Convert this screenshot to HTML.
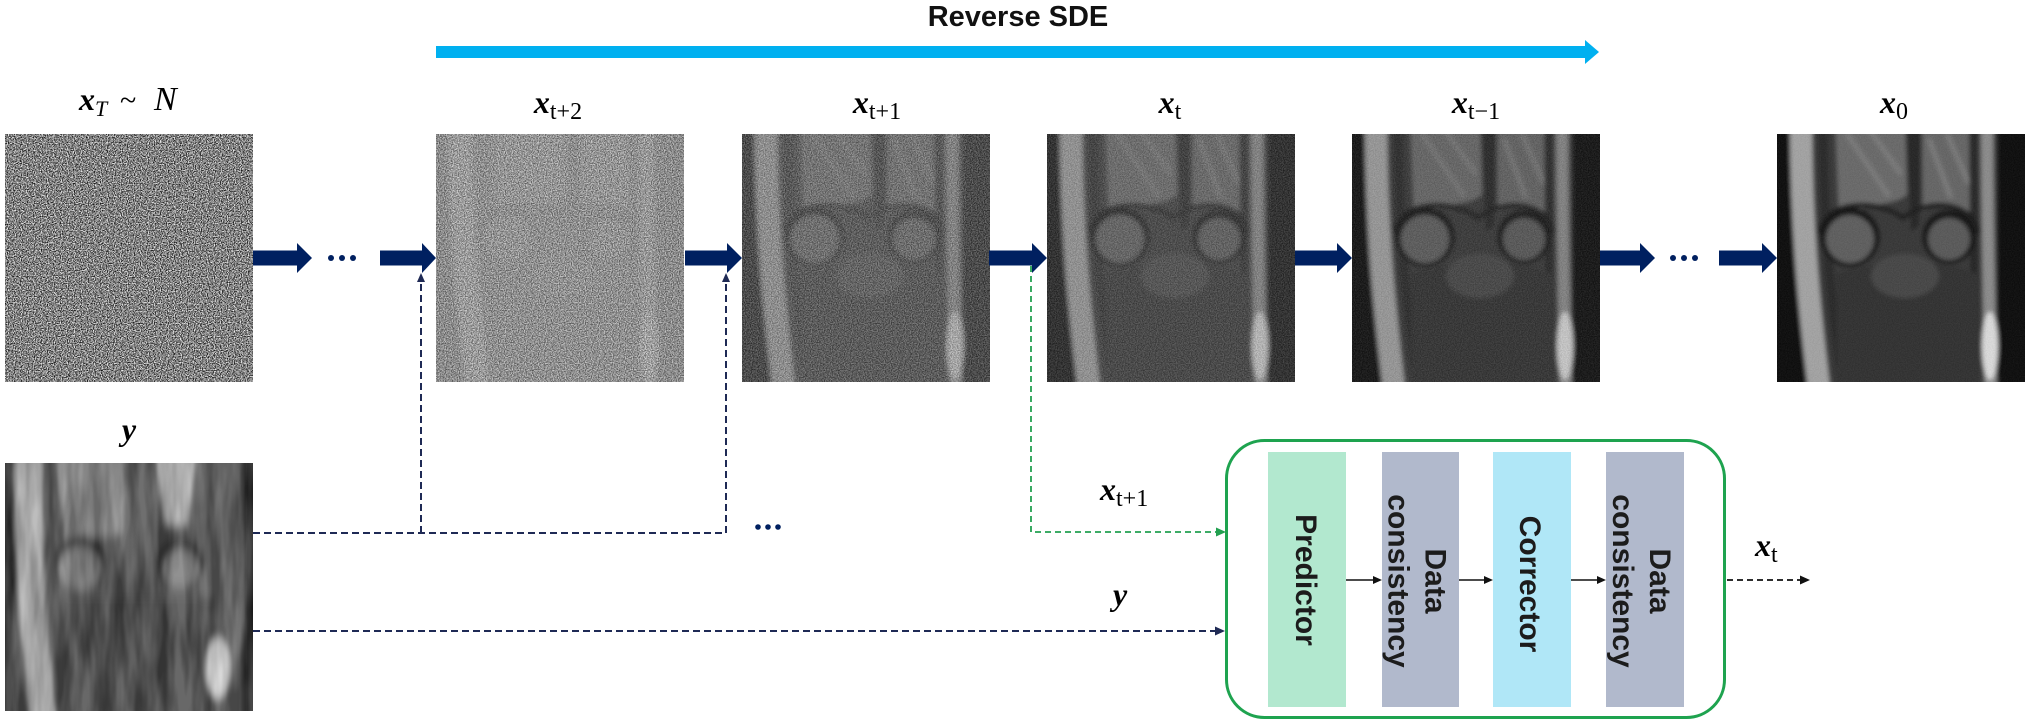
<!DOCTYPE html>
<html><head><meta charset="utf-8">
<style>
html,body{margin:0;padding:0;background:#fff;}
svg{display:block;}
.mx{font-family:"Liberation Serif","DejaVu Serif",serif;font-weight:bold;font-style:italic;font-size:32px;}
.ms{font-family:"Liberation Serif","DejaVu Serif",serif;font-weight:normal;font-style:normal;font-size:24px;}
.blk{font-family:"Liberation Sans",Arial,sans-serif;font-weight:bold;font-size:30px;fill:#1c1c1c;}
</style></head>
<body>
<svg width="2033" height="725" viewBox="0 0 2033 725" xmlns="http://www.w3.org/2000/svg">
<defs>
  <clipPath id="sq"><rect x="0" y="0" width="248" height="248"/></clipPath>
  <filter id="nz" x="0" y="0" width="1" height="1" color-interpolation-filters="sRGB">
    <feTurbulence type="fractalNoise" baseFrequency="0.85" numOctaves="2" seed="4"/>
    <feColorMatrix type="matrix" values="1 0 0 0 0  1 0 0 0 0  1 0 0 0 0  0 0 0 0 1"/>
    <feComponentTransfer>
      <feFuncR type="linear" slope="2.4" intercept="-0.7"/>
      <feFuncG type="linear" slope="2.4" intercept="-0.7"/>
      <feFuncB type="linear" slope="2.4" intercept="-0.7"/>
    </feComponentTransfer>
  </filter>
  <filter id="streak" x="0" y="0" width="1" height="1" color-interpolation-filters="sRGB">
    <feTurbulence type="fractalNoise" baseFrequency="0.06 0.01" numOctaves="3" seed="7"/>
    <feColorMatrix type="matrix" values="1 0 0 0 0  1 0 0 0 0  1 0 0 0 0  0 0 0 0 1"/>
    <feComponentTransfer>
      <feFuncR type="linear" slope="2.2" intercept="-0.6"/>
      <feFuncG type="linear" slope="2.2" intercept="-0.6"/>
      <feFuncB type="linear" slope="2.2" intercept="-0.6"/>
    </feComponentTransfer>
  </filter>
  <filter id="blurv"><feGaussianBlur stdDeviation="2 5"/></filter>
  <filter id="soft"><feGaussianBlur stdDeviation="2"/></filter>

  <g id="knee">
    <rect x="-20" y="-20" width="290" height="290" fill="#0f0f0f"/>
    <path d="M12,-20 C14,80 22,160 36,270 L220,270 L220,-20 Z" fill="#383838"/>
    <path d="M24,-20 C24,80 30,160 44,270" fill="none" stroke="#a4a4a4" stroke-width="22"/>
    <path d="M46,-20 C46,80 52,160 68,270" fill="none" stroke="#2c2c2c" stroke-width="10"/>
    <path d="M58,-20 L128,-20 L130,60 C120,72 95,66 62,84 Z" fill="#6a6a6a"/>
    <path d="M145,-20 L196,-20 L198,82 C180,68 160,64 146,78 Z" fill="#666"/>
    <path d="M70,0 L112,62 M92,-5 L124,40 M152,5 L174,64 M170,0 L192,50" stroke="#7c7c7c" stroke-width="5" fill="none"/>
    <path d="M128,-20 L145,-20 L142,92 L134,98 Z" fill="#262626"/>
    <path d="M196,-20 L198,270" stroke="#262626" stroke-width="8"/>
    <path d="M210,-20 C210,80 212,160 214,270" stroke="#8c8c8c" stroke-width="12" fill="none"/>
    <ellipse cx="213" cy="212" rx="8" ry="34" fill="#dcdcdc"/>
    <path d="M60,140 C100,125 170,125 200,140 L202,270 L60,270 Z" fill="#333"/>
    <ellipse cx="128" cy="142" rx="34" ry="22" fill="#474747"/>
    <path d="M42,100 C46,66 100,64 126,84 C150,64 196,66 202,100" stroke="#1a1a1a" stroke-width="5" fill="none"/>
    <circle cx="73" cy="103" r="30" fill="#141414"/>
    <circle cx="73" cy="105" r="24" fill="#5e5e5e"/>
    <circle cx="172" cy="103" r="27" fill="#141414"/>
    <circle cx="172" cy="105" r="21" fill="#5a5a5a"/>
  </g>
</defs>

<rect width="2033" height="725" fill="#fff"/>

<!-- Reverse SDE -->
<text x="1018" y="26" text-anchor="middle" font-family="Liberation Sans, Arial, sans-serif" font-weight="bold" font-size="29" fill="#111">Reverse SDE</text>
<rect x="436" y="46" width="1150" height="12" fill="#00b0f0"/>
<polygon points="1585,40 1599,52 1585,64" fill="#00b0f0"/>

<!-- top labels -->
<text x="79" y="110"><tspan class="mx">x</tspan><tspan dy="6" style="font-family:'Liberation Serif',serif;font-style:italic;font-size:22px;">T</tspan></text>
<text x="120" y="110" font-family="Liberation Serif, serif" font-size="30">~</text>
<text x="154" y="110" font-family="Liberation Serif, serif" font-style="italic" font-size="34">N</text>

<text x="558" y="113" text-anchor="middle"><tspan class="mx">x</tspan><tspan class="ms" dy="6">t+2</tspan></text>
<text x="877" y="113" text-anchor="middle"><tspan class="mx">x</tspan><tspan class="ms" dy="6">t+1</tspan></text>
<text x="1170" y="113" text-anchor="middle"><tspan class="mx">x</tspan><tspan class="ms" dy="6">t</tspan></text>
<text x="1476" y="113" text-anchor="middle"><tspan class="mx">x</tspan><tspan class="ms" dy="6">t−1</tspan></text>
<text x="1894" y="113" text-anchor="middle"><tspan class="mx">x</tspan><tspan class="ms" dy="6">0</tspan></text>

<!-- noise image x_T -->
<g transform="translate(5,134)"><g clip-path="url(#sq)">
  <rect width="248" height="248" fill="#909090"/>
  <rect width="248" height="248" filter="url(#nz)" opacity="0.85"/>
</g></g>

<!-- x_{t+2} -->
<g transform="translate(436,134)"><g clip-path="url(#sq)">
  <use href="#knee" filter="url(#soft)"/>
  <rect width="248" height="248" fill="#b4b4b4" opacity="0.82"/>
  <rect width="248" height="248" filter="url(#nz)" opacity="0.45"/>
</g></g>

<!-- x_{t+1} -->
<g transform="translate(742,134)"><g clip-path="url(#sq)">
  <use href="#knee" filter="url(#soft)"/>
  <rect width="248" height="248" fill="#7a7a7a" opacity="0.4"/>
  <rect width="248" height="248" filter="url(#nz)" opacity="0.28"/>
</g></g>

<!-- x_t -->
<g transform="translate(1047,134)"><g clip-path="url(#sq)">
  <use href="#knee" filter="url(#soft)"/>
  <rect width="248" height="248" fill="#6a6a6a" opacity="0.27"/>
  <rect width="248" height="248" filter="url(#nz)" opacity="0.16"/>
</g></g>

<!-- x_{t-1} -->
<g transform="translate(1352,134)"><g clip-path="url(#sq)">
  <use href="#knee" filter="url(#soft)"/>
  <rect width="248" height="248" fill="#444" opacity="0.12"/>
  <rect width="248" height="248" filter="url(#nz)" opacity="0.09"/>
</g></g>

<!-- x_0 -->
<g transform="translate(1777,134)"><g clip-path="url(#sq)">
  <use href="#knee" filter="url(#soft)"/>
  <rect width="248" height="248" filter="url(#nz)" opacity="0.04"/>
</g></g>

<!-- big navy arrows -->
<g fill="#002060">
  <polygon points="253,250.5 297,250.5 297,243 312,258 297,273 297,265.5 253,265.5"/>
  <polygon points="380,250.5 422,250.5 422,243 436,258 422,273 422,265.5 380,265.5"/>
  <polygon points="685,250.5 727,250.5 727,243 742,258 727,273 727,265.5 685,265.5"/>
  <polygon points="989,250.5 1032,250.5 1032,243 1047,258 1032,273 1032,265.5 989,265.5"/>
  <polygon points="1295,250.5 1337,250.5 1337,243 1352,258 1337,273 1337,265.5 1295,265.5"/>
  <polygon points="1600,250.5 1640,250.5 1640,243 1655,258 1640,273 1640,265.5 1600,265.5"/>
  <polygon points="1719,250.5 1762,250.5 1762,243 1777,258 1762,273 1762,265.5 1719,265.5"/>
  <circle cx="331" cy="258" r="3"/><circle cx="342" cy="258" r="3"/><circle cx="353" cy="258" r="3"/>
  <circle cx="1673" cy="258" r="3"/><circle cx="1684" cy="258" r="3"/><circle cx="1695" cy="258" r="3"/>
  <circle cx="758" cy="527" r="2.8"/><circle cx="768" cy="527" r="2.8"/><circle cx="778" cy="527" r="2.8"/>
</g>

<!-- y image -->
<text x="129" y="440" text-anchor="middle" class="mx">y</text>
<g transform="translate(5,463)"><g clip-path="url(#sq)">
  <g filter="url(#blurv)">
    <rect x="-20" y="-20" width="290" height="290" fill="#4c4c4c"/>
    <rect x="-20" y="-20" width="30" height="290" fill="#222"/>
    <path d="M24,-20 C22,80 26,170 40,270" stroke="#adadad" stroke-width="26" fill="none"/>
    <path d="M50,-20 L120,-20 L118,70 L60,80 Z" fill="#858585"/>
    <path d="M150,-20 L192,-20 L182,62 L160,62 Z" fill="#b8b8b8"/>
    <rect x="195" y="-20" width="40" height="290" fill="#5a5a5a"/>
    <rect x="60" y="135" width="150" height="135" fill="#434343"/>
    <circle cx="75" cy="100" r="27" fill="#2e2e2e"/>
    <circle cx="75" cy="105" r="22" fill="#777"/>
    <circle cx="175" cy="100" r="24" fill="#2e2e2e"/>
    <circle cx="175" cy="105" r="19" fill="#747474"/>
    <ellipse cx="213" cy="205" rx="12" ry="30" fill="#e0e0e0"/>
    <rect x="238" y="-20" width="40" height="290" fill="#1a1a1a"/>
  </g>
  <rect width="248" height="248" filter="url(#streak)" opacity="0.2"/>
</g></g>

<!-- navy dashed connectors -->
<g stroke="#1f2a55" stroke-width="2" fill="none" stroke-dasharray="7 4">
  <path d="M253,533 L726,533"/>
  <path d="M421,533 L421,281"/>
  <path d="M726,533 L726,281"/>
  <path d="M253,631 L1216,631"/>
</g>
<g fill="#1f2a55">
  <polygon points="421,273 417,282 425,282"/>
  <polygon points="726,273 722,282 730,282"/>
  <polygon points="1225,631 1215,626.5 1215,635.5"/>
</g>

<!-- green dashed connector -->
<path d="M1031,266 L1031,532 L1217,532" stroke="#22a050" stroke-width="1.8" fill="none" stroke-dasharray="6 4"/>
<polygon points="1226,532 1216,527.5 1216,536.5" fill="#22a050"/>

<!-- bottom labels -->
<text x="1100" y="500"><tspan class="mx">x</tspan><tspan class="ms" dy="6">t+1</tspan></text>
<text x="1113" y="605" class="mx">y</text>
<text x="1755" y="556"><tspan class="mx">x</tspan><tspan class="ms" dy="6">t</tspan></text>

<!-- PC box -->
<rect x="1226.5" y="440.5" width="498" height="277" rx="38" ry="38" fill="#fff" stroke="#1ea34f" stroke-width="3"/>
<rect x="1268" y="452" width="78" height="255" fill="#b2e8cf"/>
<rect x="1382" y="452" width="77" height="255" fill="#b1b9cc"/>
<rect x="1493" y="452" width="78" height="255" fill="#b0e7f7"/>
<rect x="1606" y="452" width="78" height="255" fill="#b1b9cc"/>

<text class="blk" text-anchor="middle" transform="translate(1296,580) rotate(90)">Predictor</text>
<text class="blk" text-anchor="middle" transform="translate(1425.5,581) rotate(90)">Data</text>
<text class="blk" text-anchor="middle" transform="translate(1388.5,581) rotate(90)">consistency</text>
<text class="blk" text-anchor="middle" transform="translate(1520,584) rotate(90)">Corrector</text>
<text class="blk" text-anchor="middle" transform="translate(1650,581) rotate(90)">Data</text>
<text class="blk" text-anchor="middle" transform="translate(1613,581) rotate(90)">consistency</text>

<g stroke="#111" stroke-width="1.6">
  <line x1="1346" y1="580" x2="1375" y2="580"/>
  <line x1="1459" y1="580" x2="1486" y2="580"/>
  <line x1="1571" y1="580" x2="1599" y2="580"/>
</g>
<g fill="#111">
  <polygon points="1382,580 1373,576 1373,584"/>
  <polygon points="1493,580 1484,576 1484,584"/>
  <polygon points="1606,580 1597,576 1597,584"/>
</g>

<!-- output dashed arrow -->
<line x1="1727" y1="580" x2="1801" y2="580" stroke="#111" stroke-width="1.8" stroke-dasharray="6 4"/>
<polygon points="1810,580 1800,575.5 1800,584.5" fill="#111"/>
</svg>
</body></html>
